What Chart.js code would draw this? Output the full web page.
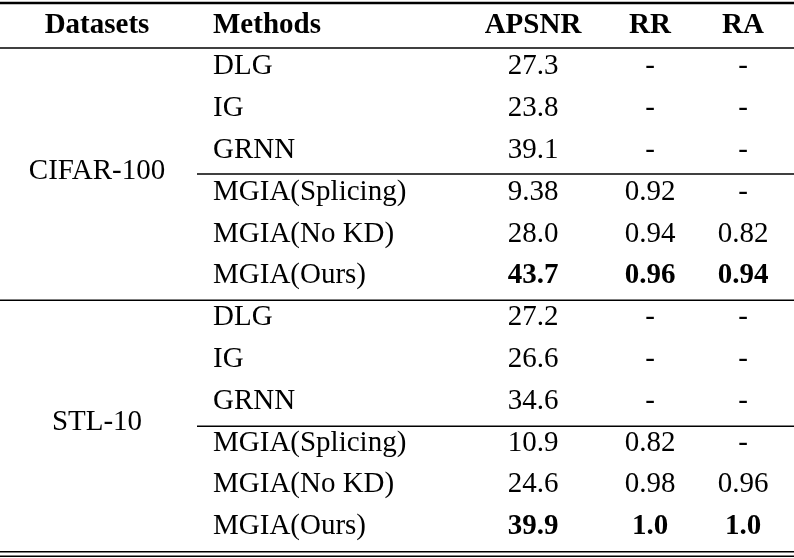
<!DOCTYPE html><html><head><meta charset="utf-8">
<script src="https://cdn.jsdelivr.net/npm/chart.js@4"></script>
<style>html,body{margin:0;padding:0;background:#fff}</style></head><body>
<canvas id="c" width="794" height="558"></canvas>
<script>
const headers = ["Datasets","Methods","APSNR","RR","RA"];
const datasets = ["CIFAR-100","STL-10"];
const methods = ["DLG","IG","GRNN","MGIA(Splicing)","MGIA(No KD)","MGIA(Ours)"];
const apsnr = [["27.3","23.8","39.1","9.38","28.0","43.7"],["27.2","26.6","34.6","10.9","24.6","39.9"]];
const rr = [["-","-","-","0.92","0.94","0.96"],["-","-","-","0.82","0.98","1.0"]];
const ra = [["-","-","-","-","0.82","0.94"],["-","-","-","-","0.96","1.0"]];
const colX = [97,213,533,650,743];
const FONT = '"Liberation Serif","Times New Roman",serif';
const tablePlugin = {
  id:'table',
  afterDraw(chart){
    const {ctx, scales:{x,y}} = chart;
    ctx.save();
    ctx.fillStyle='#000'; ctx.strokeStyle='#000';
    const hl=(v,x0,x1,w)=>{ctx.lineWidth=w;ctx.beginPath();ctx.moveTo(x.getPixelForValue(x0),y.getPixelForValue(v));ctx.lineTo(x.getPixelForValue(x1),y.getPixelForValue(v));ctx.stroke();};
    hl(-0.53,0,794,2.5); hl(0.55,0,794,1.5);
    hl(3.565,197,794,1.5); hl(6.585,0,794,1.5); hl(9.6,197,794,1.5);
    hl(12.6,0,794,1.5); hl(12.71,0,794,1.5);
    ctx.textBaseline='middle';
    const txt=(s,col,row,bold,align)=>{ctx.font=(bold?'bold ':'')+'29px '+FONT;ctx.textAlign=align;ctx.fillText(s,x.getPixelForValue(colX[col]),y.getPixelForValue(row));};
    headers.forEach((h,i)=>txt(h,i,0,true,i==1?'left':'center'));
    datasets.forEach((d,di)=>{
      const base=1+di*6;
      txt(d,0,base+2.5,false,'center');
      methods.forEach((m,mi)=>{
        const r=base+mi, best=mi==5;
        txt(m,1,r,false,'left');
        txt(apsnr[di][mi],2,r,best,'center');
        txt(rr[di][mi],3,r,best,'center');
        txt(ra[di][mi],4,r,best,'center');
      });
    });
    ctx.restore();
  }
};
new Chart(document.getElementById('c'),{
  type:'scatter',
  data:{datasets:[{data:[],pointRadius:0}]},
  options:{responsive:false,animation:false,
    layout:{padding:0},
    plugins:{legend:{display:false},tooltip:{enabled:false}},
    scales:{x:{type:'linear',min:0,max:794,display:false},
            y:{type:'linear',min:-0.6,max:12.75,reverse:true,display:false}}},
  plugins:[tablePlugin]
});
</script></body></html>
